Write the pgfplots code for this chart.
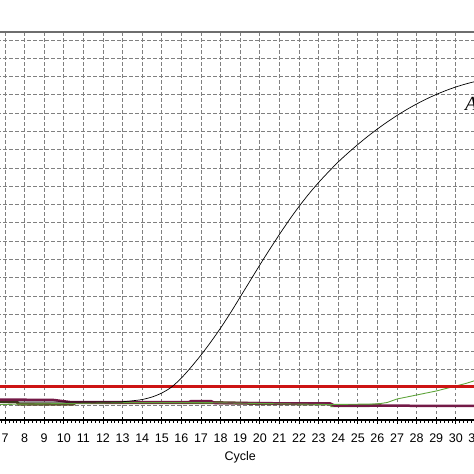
\documentclass[border=0pt]{standalone}
\usepackage{pgfplots}
\pgfplotsset{compat=1.18}
\usepackage{fontspec}
\setmainfont{Liberation Sans}
\newfontfamily\timesfont{Liberation Serif}
\definecolor{gridgray}{RGB}{128,128,128}
\definecolor{topgray}{RGB}{110,110,110}
\definecolor{thred}{RGB}{205,20,20}
\definecolor{maroon}{RGB}{115,25,70}
\definecolor{olivebrown}{RGB}{95,82,45}
\definecolor{lightgreen}{RGB}{95,165,60}
\definecolor{darkgreen}{RGB}{100,135,60}
\begin{document}
\begin{tikzpicture}
\useasboundingbox (14.6pt,-54pt) rectangle (488.6pt,420pt);
\clip (14.6pt,-54pt) rectangle (488.6pt,420pt);
\begin{axis}[
  at={(0pt,0pt)}, anchor=south west,
  scale only axis, width=509.6pt, height=388pt,
  xmin=6, xmax=32, ymin=0, ymax=388,
  enlargelimits=false,
  axis line style={draw=none},
  xtick={6,...,32}, minor x tick num=4,
  ytick={14.20,32.49,50.78,69.07,87.36,105.65,123.94,142.23,160.52,178.81,197.10,215.39,233.68,251.97,270.26,288.55,306.84,325.13,343.42,361.71,380},
  yticklabels={},
  ytick style={draw=none},
  xtick pos=bottom,
  xtick align=center,
  major tick length=7pt, minor tick length=4pt,
  x tick style={black, line width=0.8pt},
  minor x tick style={black, line width=0.6pt, yshift=-1pt},
  grid=major,
  major grid style={gridgray, line width=0.8pt, dash pattern=on 3.5pt off 2.5pt},
  /pgf/number format/assume math mode=true,
  xticklabel style={font=\fontsize{12.5}{12.5}\selectfont, inner sep=1pt, yshift=-9pt},
  xlabel={Cycle},
  xlabel style={font=\fontsize{12.5}{12.5}\selectfont, inner sep=0pt, yshift=-8pt},
  clip=false,
]
% background flat curves
\addplot[olivebrown, line width=3pt] coordinates {(6.7,18.5) (7.6,18) (7.7,16) (10.5,16) (10.6,17.5) (17.5,17.5) (20,16.5) (23.6,16)};
\addplot[darkgreen, line width=3pt] coordinates {(23.6,14.5) (25.6,14.5) (26.2,15.5)};
\addplot[maroon, line width=2.5pt] coordinates {(6.7,20.5) (9.5,20) (10.3,18) (16.4,18) (16.5,19) (17.5,19) (17.7,17) (23.6,16.5) (23.8,14.5) (31.5,14)};
\addplot[lightgreen, line width=0.9pt] coordinates {(6.7,15.5) (10,16.5) (13,17.5) (17,17.5) (20,16.5) (23.5,15.5) (26,16) (26.5,17.5) (27,21) (27.5,23) (28,25) (28.5,27) (29,29) (29.5,31.5) (30,34) (30.5,36.5) (31,39.5) (31.5,42.5)};
% threshold
\addplot[thred, line width=2.5pt] coordinates {(6,33.3) (32,33.3)};
% amplification curve A
\addplot[black, line width=0.7pt, smooth, tension=0.5] coordinates {
(6.7,18) (12.5,18) (13,18.3) (13.5,19.2) (14,20.5) (14.5,23) (15,27) (15.5,33) (16,42) (16.5,53) (17,65) (17.5,78) (18,92) (18.5,107) (19,123) (19.5,139) (20,155) (20.5,170.5) (21,185.5) (21.5,200) (22,213.5) (22.5,226) (23,237.5) (23.5,248) (24,258) (24.5,267) (25,275.5) (25.5,283.5) (26,291) (26.5,298) (27,304.5) (27.5,310.5) (28,316) (28.5,321) (29,325.5) (29.5,329.5) (30,333) (30.5,336) (31,338.5) (31.5,340.5)};
\draw[topgray, line width=1.1pt] (rel axis cs:0,1) -- (rel axis cs:1,1);
\draw[black, line width=2pt] (rel axis cs:0,0) -- (rel axis cs:1,0);
\node[anchor=west, inner sep=0pt, font=\timesfont\itshape\fontsize{20}{20}\selectfont] at (axis cs:30.47,316) {A};
\end{axis}
\end{tikzpicture}
\end{document}
